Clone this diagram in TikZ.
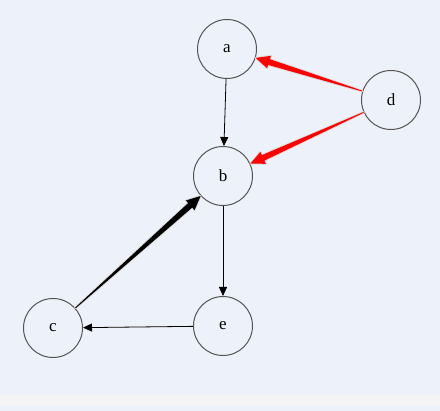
\documentclass[tikz,border=0pt]{standalone}
\usepackage{fontspec}
\setmainfont{Liberation Serif}
\usetikzlibrary{arrows.meta,calc}
\definecolor{bgblue}{HTML}{EDF1F9}
\definecolor{strip}{HTML}{F4F4F4}
\definecolor{ring}{HTML}{555555}
\tikzset{
  vtx/.style={circle,draw=ring,line width=1pt,minimum size=59pt,inner sep=0pt,font=\fontsize{17}{17}\selectfont},
  thin/.style={draw=black,line width=0.8pt,-{Triangle[length=9pt,width=8pt]}}
}
\newcommand\wedgearr[3]{%
  \path (#1) -- coordinate[pos=0] (S) coordinate[pos=1] (E) (#2);
  \coordinate (H) at ($(E)!14pt!(S)$);
  \path[draw=white!70!gray,line width=1.8pt,line join=round,shift={(0.6pt,-0.6pt)}]
    ($(S)!0.4pt!90:(E)$) -- ($(H)!3pt!90:(E)$) -- ($(H)!6.5pt!90:(E)$) -- (E) --
    ($(H)!6.5pt!-90:(E)$) -- ($(H)!3pt!-90:(E)$) -- ($(S)!0.4pt!-90:(E)$) -- cycle;
  \fill[#3]
    ($(S)!0.4pt!90:(E)$) -- ($(H)!3pt!90:(E)$) -- ($(H)!6.5pt!90:(E)$) -- (E) --
    ($(H)!6.5pt!-90:(E)$) -- ($(H)!3pt!-90:(E)$) -- ($(S)!0.4pt!-90:(E)$) -- cycle;
}
\begin{document}
\begin{tikzpicture}[x=1pt,y=-1pt]
  \useasboundingbox (0,0) rectangle (440,411);
  \fill[bgblue] (0,0) rectangle (440,411);
  \fill[strip] (0,395) rectangle (440,406);
  \node[vtx] (a) at (227,49) {a};
  \node[vtx] (d) at (391,100) {d};
  \node[vtx] (b) at (223,176) {b};
  \node[vtx] (c) at (53,328) {c};
  \node[vtx] (e) at (223,326) {e};
  \draw[thin] (a) -- (b);
  \draw[thin] (b) -- (e);
  \draw[thin] (e) -- (c);
  \wedgearr{d}{a}{red}
  \wedgearr{d}{b}{red}
  \wedgearr{c}{b}{black}
\end{tikzpicture}
\end{document}
